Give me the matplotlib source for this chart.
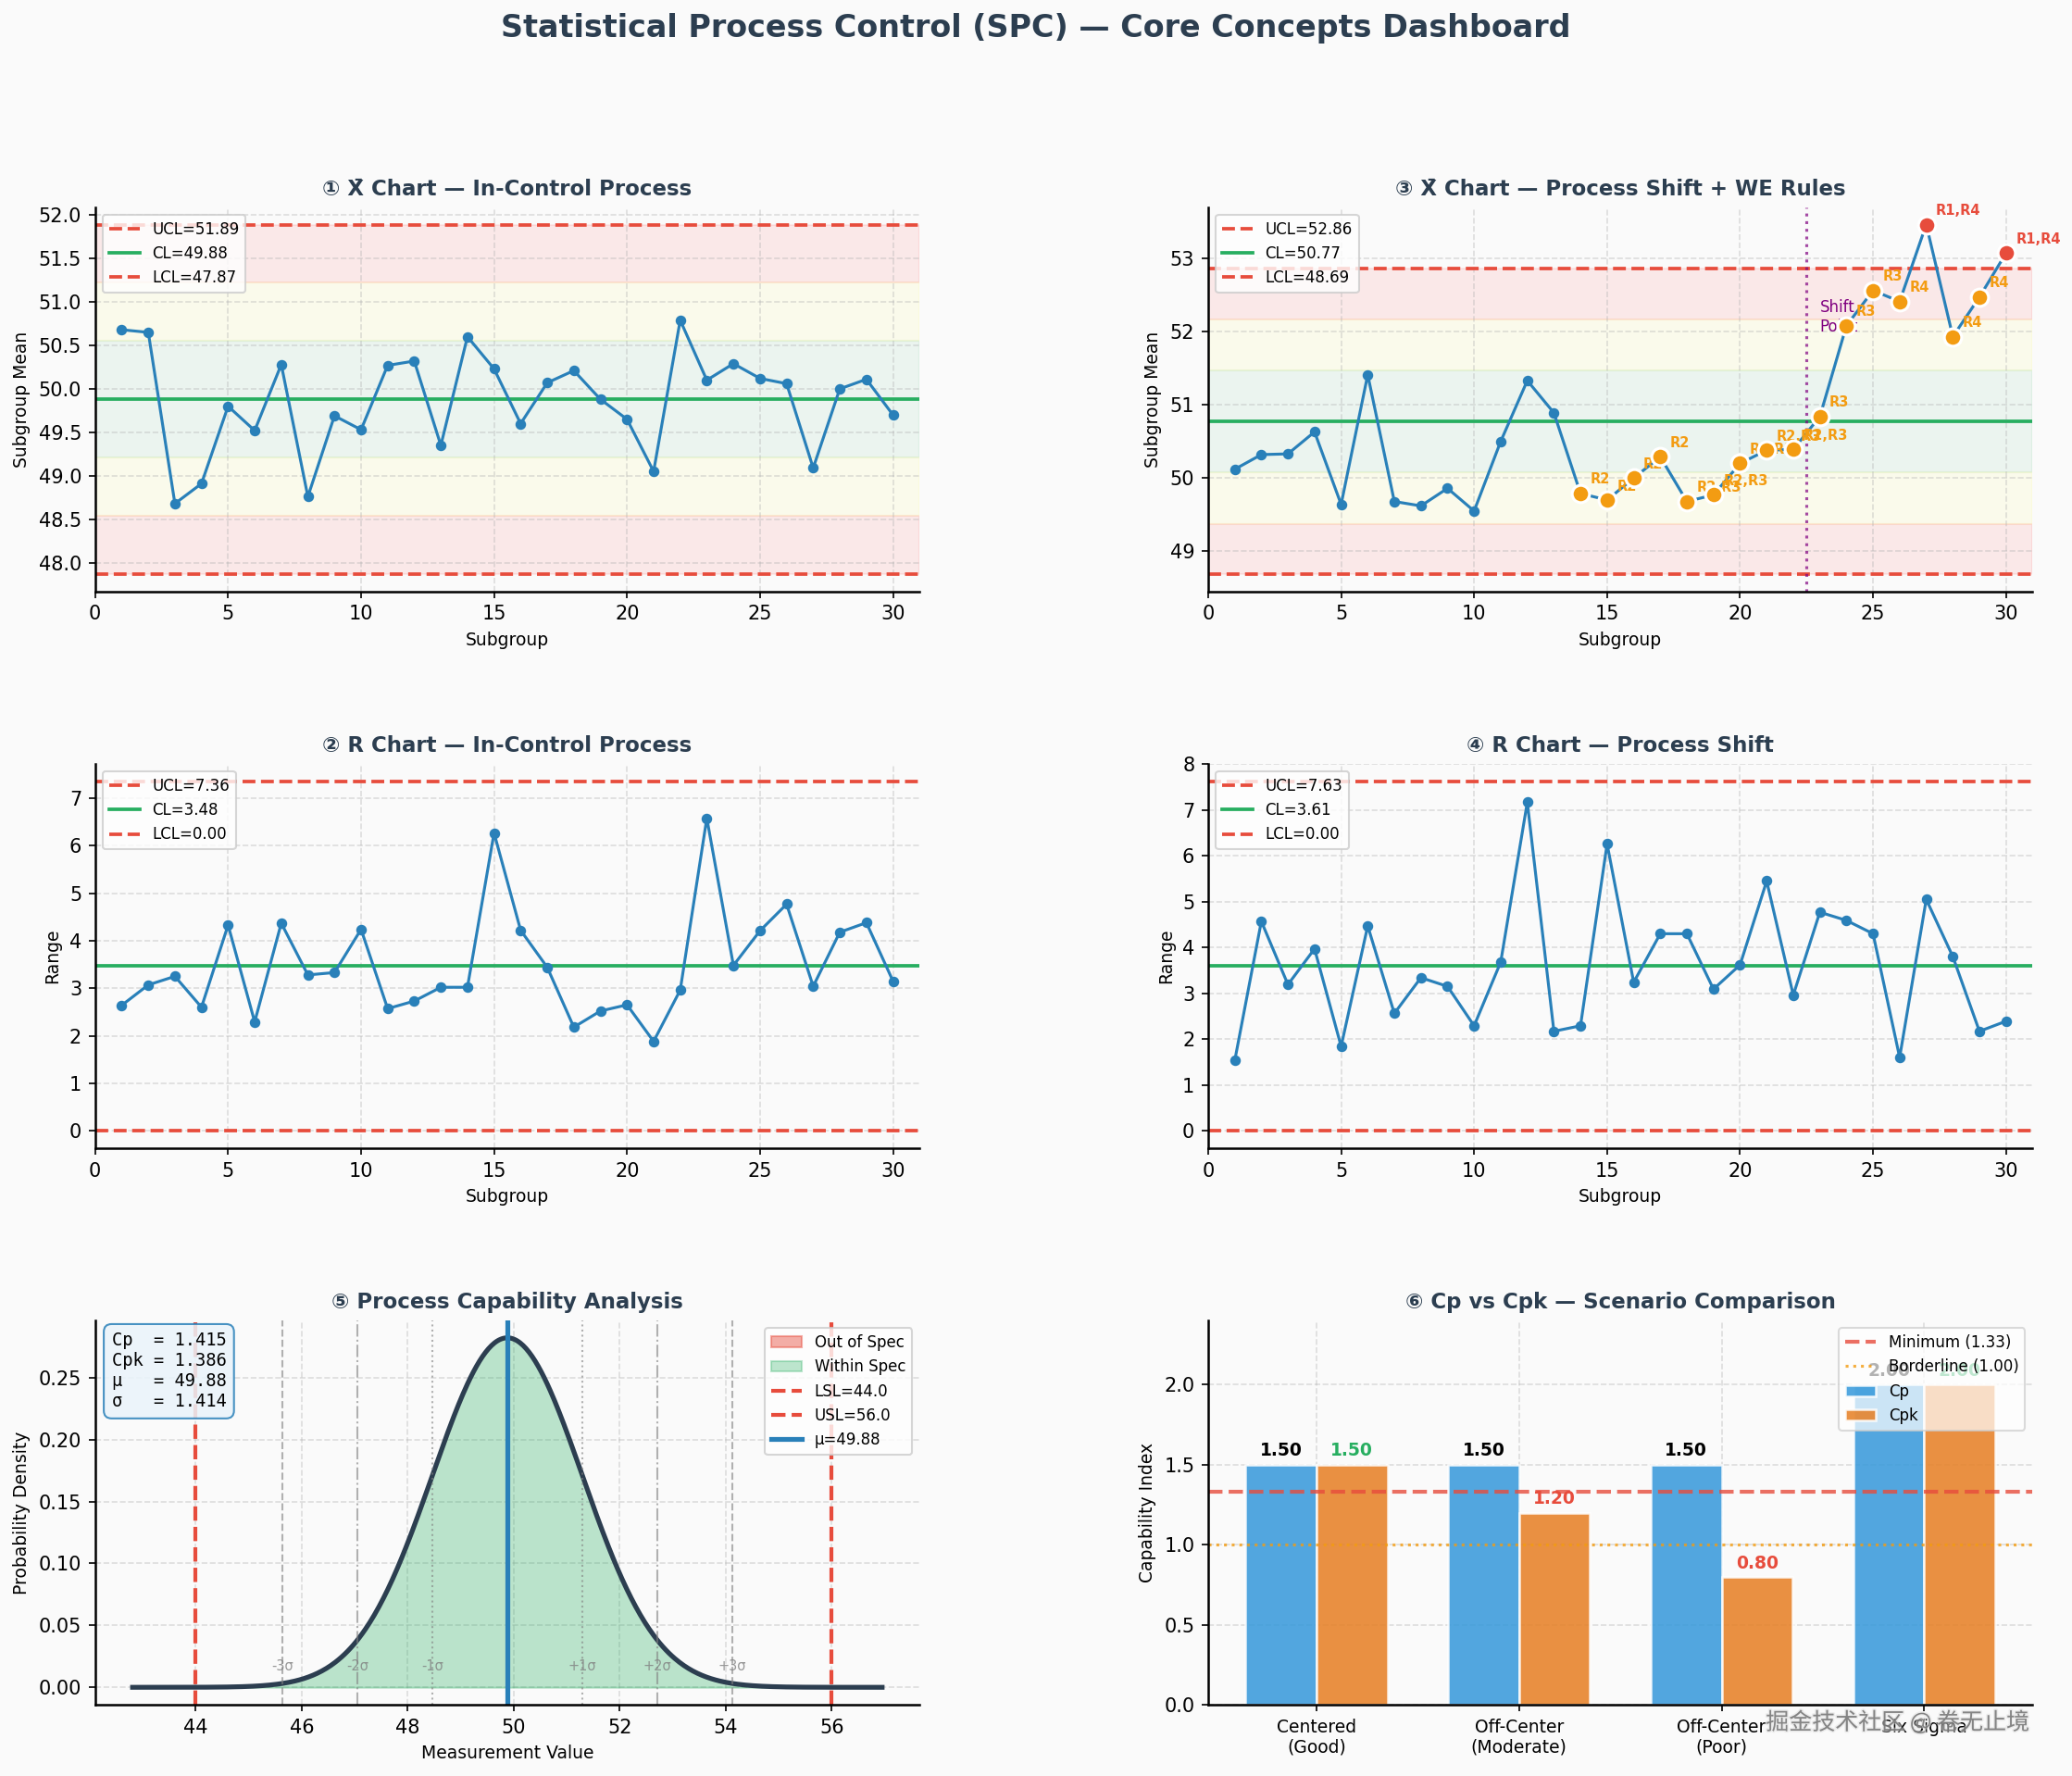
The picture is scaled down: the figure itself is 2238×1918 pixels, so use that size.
import matplotlib.pyplot as plt
import matplotlib.patheffects as pe
import numpy as np

plt.rcParams['font.family'] = ['DejaVu Sans', 'Noto Sans CJK SC']

# ---- data ----
subgroups = np.arange(1, 31)

# in-control process (panels 1, 2)
xbar_ic = [50.68, 50.65, 48.68, 48.91, 49.80, 49.52, 50.28, 48.76, 49.69, 49.53,
           50.27, 50.32, 49.35, 50.60, 50.23, 49.60, 50.07, 50.21, 49.88, 49.65,
           49.05, 50.79, 50.10, 50.29, 50.12, 50.06, 49.09, 50.00, 50.11, 49.70]
range_ic = [2.64, 3.07, 3.25, 2.60, 4.33, 2.29, 4.37, 3.28, 3.33, 4.24,
            2.57, 2.73, 3.02, 3.02, 6.27, 4.22, 3.44, 2.18, 2.52, 2.65,
            1.88, 2.96, 6.58, 3.48, 4.21, 4.77, 3.04, 4.18, 4.38, 3.15]
xbar_ic_lim = [51.89, 49.88, 47.87]   # UCL, CL, LCL
range_ic_lim = [7.36, 3.48, 0.00]

# process with a shift (panels 3, 4)
xbar_sh = [50.12, 50.32, 50.33, 50.63, 49.64, 51.41, 49.68, 49.62, 49.86, 49.55,
           50.50, 51.33, 50.89, 49.79, 49.70, 50.00, 50.29, 49.68, 49.77, 50.20,
           50.38, 50.39, 50.84, 52.08, 52.56, 52.41, 53.46, 51.93, 52.47, 53.07]
range_sh = [1.53, 4.57, 3.19, 3.97, 1.84, 4.47, 2.56, 3.34, 3.15, 2.29,
            3.68, 7.17, 2.17, 2.29, 6.26, 3.24, 4.30, 4.30, 3.09, 3.62,
            5.45, 2.96, 4.77, 4.59, 4.30, 1.60, 5.05, 3.80, 2.17, 2.39]
xbar_sh_lim = [52.86, 50.77, 48.69]
range_sh_lim = [7.63, 3.61, 0.00]
shift_at = 22.5

# Western Electric rule violations (subgroup -> rules)
we_points = [14, 15, 16, 17, 18, 19, 20, 21, 22, 23, 24, 25, 26, 27, 28, 29, 30]
we_rules = ["R2", "R2", "R2", "R2", "R2,R3", "R2,R3", "R2,R3", "R2,R3", "R2,R3",
            "R3", "R3", "R3", "R4", "R1,R4", "R4", "R4", "R1,R4"]

# capability
cap_mu, cap_sigma = 49.88, 1.414
lsl, usl = 44.0, 56.0
cap_cp, cap_cpk = 1.415, 1.386

# scenario comparison
scenarios = ["Centered\n(Good)", "Off-Center\n(Moderate)", "Off-Center\n(Poor)", "Six Sigma"]
cp_vals = [1.50, 1.50, 1.50, 2.00]
cpk_vals = [1.50, 1.20, 0.80, 2.00]

# ---- style ----
BG = '#fafafa'
BLUE = '#2980b9'
RED = '#e74c3c'
GREEN = '#27ae60'
ORANGE = '#f39c12'
DARK = '#2c3e50'

fig = plt.figure(figsize=(2238 / 150, 1918 / 150), dpi=150, facecolor=BG)
gs = fig.add_gridspec(3, 2, left=0.0459, right=0.981, top=0.8834, bottom=0.0401,
                      hspace=0.448, wspace=0.35)
fig.suptitle("Statistical Process Control (SPC) \u2014 Core Concepts Dashboard",
             fontsize=16, fontweight='bold', color=DARK, y=0.984, va='center')


def style(ax):
    ax.set_facecolor(BG)
    ax.spines['top'].set_visible(False)
    ax.spines['right'].set_visible(False)
    ax.spines['left'].set_linewidth(1.2)
    ax.spines['bottom'].set_linewidth(1.2)
    ax.grid(True, linestyle='--', alpha=0.4)
    ax.set_axisbelow(True)


def control_chart(ax, y, lim, title, ylabel, zones):
    ucl, cl, lcl = lim
    style(ax)
    if zones:
        s = (ucl - cl) / 3
        ax.axhspan(cl - s, cl + s, color=GREEN, alpha=0.07, zorder=0)
        ax.axhspan(cl + s, cl + 2 * s, color='yellow', alpha=0.06, zorder=0)
        ax.axhspan(cl - 2 * s, cl - s, color='yellow', alpha=0.06, zorder=0)
        ax.axhspan(cl + 2 * s, ucl, color='red', alpha=0.07, zorder=0)
        ax.axhspan(lcl, cl - 2 * s, color='red', alpha=0.07, zorder=0)
    ax.plot(subgroups, y, 'o-', color=BLUE, lw=1.5, ms=4.5, zorder=3)
    ax.axhline(ucl, color=RED, ls='--', lw=1.8, label=f'UCL={ucl:.2f}')
    ax.axhline(cl, color=GREEN, lw=1.8, label=f'CL={cl:.2f}')
    ax.axhline(lcl, color=RED, ls='--', lw=1.8, label=f'LCL={lcl:.2f}')
    ax.set_xlim(0, 31)
    ax.set_title(title, fontsize=11, fontweight='bold', color=DARK)
    ax.set_xlabel("Subgroup", fontsize=9)
    ax.set_ylabel(ylabel, fontsize=9)
    ax.legend(loc='upper left', fontsize=8, framealpha=0.8)


ax1 = fig.add_subplot(gs[0, 0])
control_chart(ax1, xbar_ic, xbar_ic_lim, "\u2460 X\u0304 Chart \u2014 In-Control Process",
              "Subgroup Mean", True)
ax2 = fig.add_subplot(gs[1, 0])
control_chart(ax2, range_ic, range_ic_lim, "\u2461 R Chart \u2014 In-Control Process",
              "Range", False)
ax3 = fig.add_subplot(gs[0, 1])
control_chart(ax3, xbar_sh, xbar_sh_lim, "\u2462 X\u0304 Chart \u2014 Process Shift + WE Rules",
              "Subgroup Mean", True)
ax4 = fig.add_subplot(gs[1, 1])
control_chart(ax4, range_sh, range_sh_lim, "\u2463 R Chart \u2014 Process Shift",
              "Range", False)

# rule violations on the shifted chart
ax3.axvline(shift_at, color='purple', ls=':', lw=1.5, alpha=0.7)
ax3.text(shift_at + 0.5, 52.2, "Shift\nPoint", color='purple', fontsize=8,
         va='center', ha='left')
for p, rule in zip(we_points, we_rules):
    c = RED if "R1" in rule else ORANGE
    yv = xbar_sh[p - 1]
    ax3.plot(p, yv, 'o', color=c, ms=9, mec='white', mew=1.5, zorder=5)
    ax3.annotate(rule, (p, yv), xytext=(5, 5), textcoords='offset points',
                 fontsize=7, fontweight='bold', color=c)

# ---- process capability ----
ax5 = fig.add_subplot(gs[2, 0])
style(ax5)
xs = np.linspace(cap_mu - 5 * cap_sigma, cap_mu + 5 * cap_sigma, 500)
pdf = np.exp(-0.5 * ((xs - cap_mu) / cap_sigma) ** 2) / (cap_sigma * np.sqrt(2 * np.pi))
ax5.fill_between(xs, pdf, where=xs <= lsl, color=RED, alpha=0.45, label='Out of Spec')
ax5.fill_between(xs, pdf, where=xs >= usl, color=RED, alpha=0.45)
ax5.fill_between(xs, pdf, where=(xs >= lsl) & (xs <= usl), color=GREEN, alpha=0.3,
                 label='Within Spec')
ax5.plot(xs, pdf, color=DARK, lw=2.5)
for k, ls in zip([1, 2, 3], [':', '-.', '--']):
    for sgn in (-1, 1):
        xv = cap_mu + sgn * k * cap_sigma
        ax5.axvline(xv, color='gray', ls=ls, lw=1, alpha=0.6)
        ax5.text(xv, pdf.max() * 0.06, f"{'+' if sgn > 0 else '-'}{k}\u03c3",
                 ha='center', va='center', fontsize=7, color='gray', alpha=0.8)
ax5.axvline(lsl, color=RED, ls='--', lw=2, label=f'LSL={lsl}')
ax5.axvline(usl, color=RED, ls='--', lw=2, label=f'USL={usl}')
ax5.axvline(cap_mu, color=BLUE, lw=2.5, label=f'\u03bc={cap_mu:.2f}')
ax5.text(0.02, 0.97,
         f"Cp  = {cap_cp:.3f}\nCpk = {cap_cpk:.3f}\n\u03bc   = {cap_mu:.2f}\n\u03c3   = {cap_sigma:.3f}",
         transform=ax5.transAxes, va='top', ha='left', fontsize=9, family='DejaVu Sans Mono',
         bbox=dict(boxstyle='round,pad=0.45', facecolor='#eaf4fb', edgecolor=BLUE, alpha=0.85))
ax5.set_title("\u2464 Process Capability Analysis", fontsize=11, fontweight='bold', color=DARK)
ax5.set_xlabel("Measurement Value", fontsize=9)
ax5.set_ylabel("Probability Density", fontsize=9)
ax5.legend(loc='upper right', fontsize=8, framealpha=0.8)

# ---- Cp vs Cpk ----
ax6 = fig.add_subplot(gs[2, 1])
style(ax6)
xpos = np.arange(len(scenarios))
w = 0.35
bars_cp = ax6.bar(xpos - w / 2, cp_vals, w, color='#3498db', alpha=0.85,
                  edgecolor='white', linewidth=1.2, label='Cp')
bars_cpk = ax6.bar(xpos + w / 2, cpk_vals, w, color='#e67e22', alpha=0.85,
                   edgecolor='white', linewidth=1.2, label='Cpk')
ax6.axhline(1.33, color=RED, ls='--', lw=2, alpha=0.8, label='Minimum (1.33)')
ax6.axhline(1.00, color=ORANGE, ls=':', lw=1.5, alpha=0.8, label='Borderline (1.00)')
for b in bars_cp:
    h = b.get_height()
    ax6.text(b.get_x() + b.get_width() / 2, h + 0.03, f"{h:.2f}", ha='center',
             va='bottom', fontsize=9, fontweight='bold', color='black')
for b in bars_cpk:
    h = b.get_height()
    ax6.text(b.get_x() + b.get_width() / 2, h + 0.03, f"{h:.2f}", ha='center',
             va='bottom', fontsize=9, fontweight='bold', color=GREEN if h >= 1.33 else RED)
ax6.set_xticks(xpos)
ax6.set_xticklabels(scenarios, fontsize=9)
ax6.set_ylim(0, 2.4)
ax6.set_title("\u2465 Cp vs Cpk \u2014 Scenario Comparison", fontsize=11, fontweight='bold', color=DARK)
ax6.set_ylabel("Capability Index", fontsize=9)
ax6.legend(loc='upper right', fontsize=8, framealpha=0.7)

# watermark
fig.text(0.9795, 0.030, "掘金技术社区 @ 卷无止境", ha='right', va='center', fontsize=12,
         color='#6e6e6e', alpha=0.75, family=['Noto Sans CJK SC', 'DejaVu Sans'],
         path_effects=[pe.withStroke(linewidth=1.5, foreground='#dddddd', alpha=0.5)])

fig.savefig("out.png", dpi=150, facecolor=BG)
